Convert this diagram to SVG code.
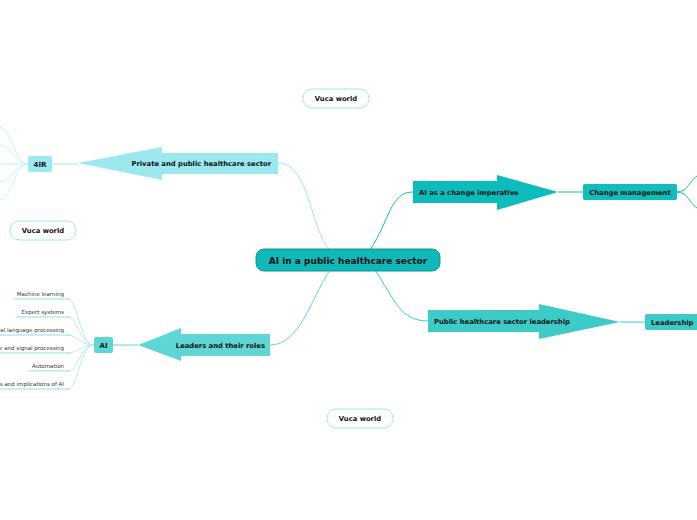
<svg xmlns="http://www.w3.org/2000/svg" width="697" height="520" viewBox="0 0 697 520">
<style>
text{font-family:"DejaVu Sans",Verdana,sans-serif;font-weight:bold;fill:#111}
.leaf{font-weight:normal;font-size:5.5px;fill:#333;text-anchor:end}
.vuca{fill:#fff;stroke:#9be8ef;stroke-width:1}
.c{fill:none;stroke-width:1}
</style>
<rect width="697" height="520" fill="#fff"/>
<g id="connectors">
<path class="c" stroke="#9be8ef" d="M278 163 C310 163 310 230 330 250"/>
<path class="c" stroke="#0cbcbc" d="M370 250 C390 220 390 192 413 192"/>
<path class="c" stroke="#3ccbc7" d="M375 270 C395 300 400 321 428 321"/>
<path class="c" stroke="#5ed6d4" d="M330 270 C310 300 300 345 270 345"/>
<path class="c" stroke="#9be8ef" d="M52 164 H78"/>
<path class="c" stroke="#5ed6d4" d="M113 345 H138"/>
<path class="c" stroke="#10bdb8" d="M558 192 H583"/>
<path class="c" stroke="#3ccbc7" d="M620 322 H645"/>
<path class="c" stroke="#10bdb8" d="M677 192 C688 192 690 180 697 176 M677 192 C688 192 690 204 697 208"/>
<g stroke="#c6f2f6" fill="none">
<path d="M28 164 C15 164 12 130 0 127"/><path d="M28 164 C15 164 12 147 0 145"/><path d="M28 164 H0"/><path d="M28 164 C15 164 12 181 0 182"/><path d="M28 164 C15 164 12 198 0 200"/>
</g>
<g stroke="#b5ecec" fill="none">
<path d="M94 345 C80 345 78 300 68 299"/><path d="M94 345 C80 345 78 318 68 317"/><path d="M94 345 C80 345 78 336 68 335"/><path d="M94 345 C80 345 78 353 68 353"/><path d="M94 345 C80 345 78 371 68 371"/><path d="M94 345 C80 345 78 389 68 389"/>
</g>
<g stroke="#8ee0e0" stroke-width="1.2">
<path d="M13 299 H70"/><path d="M17 317 H70"/><path d="M0 335 H70"/><path d="M0 353 H70"/><path d="M28 371 H70"/><path d="M0 389 H70"/>
</g>
</g>
<g id="n-central"><rect x="256" y="249" width="184" height="22" rx="8" fill="#10b8b8" stroke="#0a9a9a"/><text x="348" y="264" text-anchor="middle" style="font-size:9px">AI in a public healthcare sector</text></g>
<g id="n-private"><path d="M278 154 V174 H162 V180 L78 163 L162 147 V153 H278 Z" fill="#9be8ef"/><text x="271" y="166" text-anchor="end" style="font-size:6.8px">Private and public healthcare sector</text></g>
<g id="n-change"><path d="M413 181 H497 V175 L558 192 L497 210 V203 H413 Z" fill="#0cbcbc"/><text x="419" y="194.5" style="font-size:6.8px">AI as a change imperative</text></g>
<g id="n-leadership"><path d="M428 310 H539 V304 L620 322 L539 339 V332 H428 Z" fill="#3ccbc7"/><text x="434" y="324" style="font-size:6.8px">Public healthcare sector leadership</text></g>
<g id="n-leaders"><path d="M270 334 V356 H181 V361 L138 345 L181 328 V334 Z" fill="#5ed6d4"/><text x="265" y="347.5" text-anchor="end" style="font-size:6.8px">Leaders and their roles</text></g>
<g id="n-4ir"><rect x="28" y="156" width="24" height="16" rx="2" fill="#9be8ef"/><text x="40" y="166.5" text-anchor="middle" style="font-size:7px">4IR</text></g>
<g id="n-ai"><rect x="94" y="337" width="19" height="16" rx="2" fill="#5ed6d4"/><text x="103.5" y="347.5" text-anchor="middle" style="font-size:7px">AI</text></g>
<g id="n-cm"><rect x="583" y="184" width="94" height="16" rx="2" fill="#10bdb8"/><text x="630" y="194.5" text-anchor="middle" style="font-size:6.8px">Change management</text></g>
<g id="n-lead"><rect x="645" y="314" width="56" height="16" rx="2" fill="#3ccbc7"/><text x="651" y="324.5" style="font-size:6.8px">Leadership</text></g>
<g id="n-vuca1"><rect class="vuca" x="303" y="89" width="66" height="19" rx="9"/><text x="336" y="101" text-anchor="middle" style="font-size:6.8px">Vuca world</text></g>
<g id="n-vuca2"><rect class="vuca" x="10" y="221" width="66" height="19" rx="9"/><text x="43" y="233" text-anchor="middle" style="font-size:6.8px">Vuca world</text></g>
<g id="n-vuca3"><rect class="vuca" x="327" y="409" width="66" height="19" rx="9"/><text x="360" y="421" text-anchor="middle" style="font-size:6.8px">Vuca world</text></g>
<g id="leaves">
<text class="leaf" x="64" y="296">Machine learning</text>
<text class="leaf" x="64" y="314">Expert systems</text>
<text class="leaf" x="64" y="332">Natural language processing</text>
<text class="leaf" x="64" y="350">Speech, image and signal processing</text>
<text class="leaf" x="64" y="368">Automation</text>
<text class="leaf" x="64" y="386">Ethics and implications of AI</text>
</g>
</svg>
